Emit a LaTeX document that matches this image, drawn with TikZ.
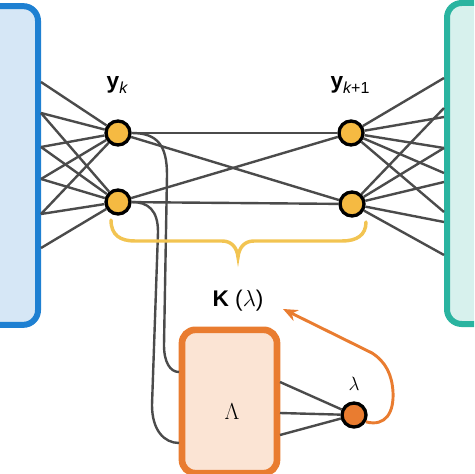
\documentclass[tikz,border=0pt]{standalone}
\usepackage{fontspec}
\setmainfont{Liberation Sans}
\usetikzlibrary{arrows.meta}

\definecolor{encblue}{RGB}{30,128,210}
\definecolor{encfill}{RGB}{214,231,246}
\definecolor{decteal}{RGB}{42,180,160}
\definecolor{decfill}{RGB}{215,241,237}
\definecolor{unitfill}{RGB}{245,186,66}
\definecolor{bracecol}{RGB}{242,196,82}
\definecolor{lamorange}{RGB}{233,124,48}
\definecolor{lamfill}{RGB}{251,228,212}
\definecolor{wire}{RGB}{75,75,75}

\tikzset{every picture/.style={line width=0.75pt}}
\tikzset{
  unit/.style={circle, draw=black, line width=2.5pt, fill=unitfill, minimum size=18pt, inner sep=0pt},
  bigbox/.style={draw, rounded corners=11pt, line width=4.5pt, inner sep=0pt},
  w/.style={draw=wire, line width=1.8pt},
  lbl/.style={inner sep=0.75pt, font=\fontsize{17}{20}\selectfont}
}

\begin{document}
\begin{tikzpicture}[x=0.75pt,y=0.75pt,yscale=-1,xscale=1]
\useasboundingbox (0,0) rectangle (474,474);
\clip (0,0) rectangle (474,474);
%Shape: Boxes
\node[bigbox, draw=encblue, fill=encfill, minimum width=51pt, minimum height=239pt] (enc) at (4,165.5) {};
\node[bigbox, draw=decteal, fill=decfill, minimum width=51pt, minimum height=240.75pt] (dec) at (481,163.5) {};
\node[bigbox, draw=lamorange, fill=lamfill, line width=5pt, rounded corners=10pt, minimum width=71.25pt, minimum height=107.5pt] (Lam) at (229.5,401.5) {};
% Coordinates on the box edges
\coordinate (l1) at (41,82);
\coordinate (l2) at (41,113);
\coordinate (l3) at (41,147);
\coordinate (l4) at (41,179);
\coordinate (l5) at (41,214);
\coordinate (l6) at (41,248);
\coordinate (r1) at (444,78);
\coordinate (r2) at (444,108);
\coordinate (r3) at (444,117);
\coordinate (r4) at (444,148);
\coordinate (r5) at (444,173);
\coordinate (r6) at (444,182);
\coordinate (r7) at (444,212);
\coordinate (r8) at (444,222);
\coordinate (r9) at (444,255);
\coordinate (lin1) at (179,372);
\coordinate (lin2) at (179,443);
\coordinate (lout1) at (280,382);
\coordinate (lout2) at (280,413);
\coordinate (lout3) at (280,435);
\coordinate (ktip) at (283,309);
%Shape: Circles
\node[unit] (yk1) at (118,133) {};
\node[unit] (yk2) at (118,202) {};
\node[unit] (yn1) at (351,133) {};
\node[unit] (yn2) at (352,204) {};
\node[unit, fill=lamorange] (lam) at (354,415) {};
%Straight Lines
\draw[w] (l1) -- (yk1);
\draw[w] (l2) -- (yk1);
\draw[w] (l3) -- (yk1);
\draw[w] (l4) -- (yk1);
\draw[w] (l5) -- (yk1);
\draw[w] (l2) -- (yk2);
\draw[w] (l3) -- (yk2);
\draw[w] (l4) -- (yk2);
\draw[w] (l5) -- (yk2);
\draw[w] (l6) -- (yk2);
\draw[w] (yk1) -- (yn1);
\draw[w] (yk2) -- (yn2);
\draw[w] (yk1) -- (yn2);
\draw[w] (yk2) -- (yn1);
\draw[w] (yn1) -- (r1);
\draw[w] (yn1) -- (r3);
\draw[w] (yn1) -- (r4);
\draw[w] (yn1) -- (r5);
\draw[w] (yn1) -- (r7);
\draw[w] (yn2) -- (r2);
\draw[w] (yn2) -- (r4);
\draw[w] (yn2) -- (r6);
\draw[w] (yn2) -- (r8);
\draw[w] (yn2) -- (r9);
\draw[w] (lout1) -- (lam);
\draw[w] (lout2) -- (lam);
\draw[w] (lout3) -- (lam);
%Curve Lines
\draw[w] (yk1) .. controls (158,133) and (167,146) .. (167,175) -- (164,345) .. controls (164,362) and (170,372) .. (lin1);
\draw[w] (yk2) .. controls (148,202) and (158,210) .. (158,232) -- (152,405) .. controls (152,430) and (164,443) .. (lin2);
%Shape: Brace
\draw[bracecol, line width=2.6pt, line cap=round] (111,220) .. controls (111,235) and (120,241) .. (135,241) -- (222,241) .. controls (232,241) and (237,248) .. (238,257) .. controls (239,248) and (244,241) .. (254,241) -- (342,241) .. controls (357,241) and (366,235) .. (366,222);
%Curve Arrow
\draw[lamorange, line width=2.2pt, -{Stealth[length=11pt,width=9pt]}] (lam.-30) .. controls (386,427) and (394,412) .. (393,392) .. controls (392,375) and (386,362) .. (372,353) -- (ktip);

% Text Node
\node[lbl] (ykl) at (117,85) {\textbf{y}\raisebox{-0.45ex}{\fontsize{12}{14}\selectfont\itshape k}};
% Text Node
\node[lbl] (ynl) at (350,85) {\textbf{y}\raisebox{-0.45ex}{\fontsize{12}{14}\selectfont\itshape k\upshape +1}};
% Text Node
\node[lbl] (kl) at (238,301) {\textbf{K} ($\lambda$)};
% Text Node
\node[inner sep=0.75pt, font=\fontsize{16}{19}\selectfont] (Lamt) at (232,412) {$\Lambda$};
% Text Node
\node[inner sep=0.75pt, font=\fontsize{14}{16}\selectfont] (lamt) at (354,384) {$\lambda$};
\end{tikzpicture}
\end{document}
